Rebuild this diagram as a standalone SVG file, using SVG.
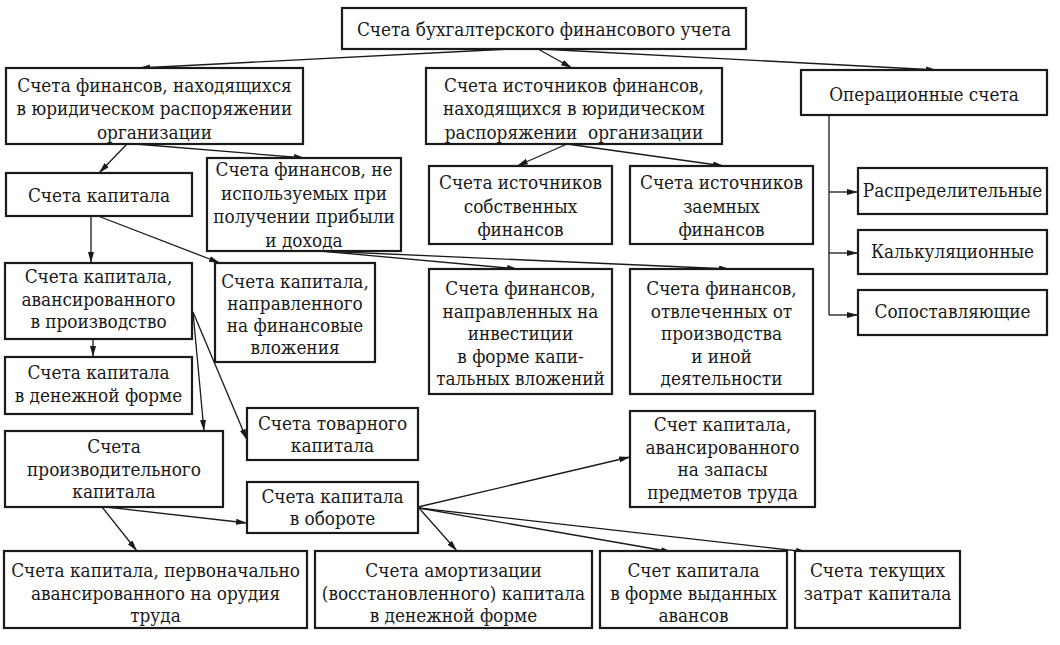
<svg xmlns="http://www.w3.org/2000/svg" width="1060" height="645" viewBox="0 0 1060 645">
<style>
.box{fill:#fff;stroke:#1a1a1a;stroke-width:2.2}
.t text{font-family:"DejaVu Serif Condensed","DejaVu Serif",serif;font-stretch:condensed;font-size:18.8px;fill:#1a1a1a;text-anchor:middle}
.c{stroke:#1a1a1a;stroke-width:1.3;fill:none}
.a{marker-end:url(#arr)}
</style>
<defs>
<marker id="arr" markerUnits="userSpaceOnUse" markerWidth="12" markerHeight="7" refX="11" refY="3" orient="auto">
<path d="M0,0 L11,3 L0,6 z" fill="#1a1a1a"/>
</marker>
</defs>
<rect width="1060" height="645" fill="#fff"/>
<g id="connectors">
<line class="c a" x1="510" y1="49" x2="139" y2="68"/>
<line class="c a" x1="538" y1="49" x2="572" y2="68"/>
<line class="c a" x1="540" y1="49" x2="937" y2="70"/>
<line class="c a" x1="127" y1="144" x2="99" y2="173"/>
<line class="c a" x1="135" y1="144" x2="305" y2="158"/>
<line class="c a" x1="567" y1="144" x2="517" y2="166"/>
<line class="c a" x1="567" y1="144" x2="724" y2="166"/>
<line class="c" x1="829" y1="115" x2="829" y2="315"/>
<line class="c a" x1="829" y1="192" x2="858" y2="192"/>
<line class="c a" x1="829" y1="253" x2="858" y2="253"/>
<line class="c a" x1="829" y1="315" x2="858" y2="315"/>
<line class="c a" x1="91" y1="216" x2="91" y2="263"/>
<line class="c a" x1="98" y1="216" x2="220" y2="263"/>
<line class="c a" x1="320" y1="251" x2="518" y2="269"/>
<line class="c a" x1="320" y1="251" x2="730" y2="269"/>
<line class="c a" x1="93" y1="339" x2="93" y2="357"/>
<line class="c a" x1="193" y1="312" x2="204" y2="431"/>
<line class="c a" x1="193" y1="312" x2="247" y2="440"/>
<line class="c a" x1="102" y1="507" x2="137" y2="551"/>
<line class="c a" x1="106" y1="507" x2="247" y2="523"/>
<line class="c a" x1="418" y1="507" x2="630" y2="457"/>
<line class="c a" x1="419" y1="508" x2="457" y2="551"/>
<line class="c a" x1="419" y1="508" x2="672" y2="552"/>
<line class="c a" x1="419" y1="508" x2="807" y2="552"/>
</g>
<g class="t">
<g id="root"><rect class="box" x="342" y="8" width="404" height="41"/><text x="544" y="36">Счета бухгалтерского финансового учета</text></g>
<g id="fin-legal"><rect class="box" x="6" y="68" width="297" height="76"/><text x="154.5" y="91.5">Счета финансов, находящихся</text><text x="154.5" y="115">в юридическом распоряжении</text><text x="154.5" y="138.5">организации</text></g>
<g id="src-legal"><rect class="box" x="426" y="68" width="296" height="76"/><text x="574" y="91.5">Счета источников финансов,</text><text x="574" y="115">находящихся в юридическом</text><text x="574" y="138.5" xml:space="preserve">распоряжении  организации</text></g>
<g id="oper"><rect class="box" x="801" y="70" width="246" height="45"/><text x="924" y="101">Операционные счета</text></g>
<g id="capital"><rect class="box" x="6" y="173" width="186" height="43"/><text x="99" y="202">Счета капитала</text></g>
<g id="fin-unused"><rect class="box" x="207" y="158" width="194" height="93"/><text x="304" y="176">Счета финансов, не</text><text x="304" y="199.5">используемых при</text><text x="304" y="223">получении прибыли</text><text x="304" y="246.5">и дохода</text></g>
<g id="src-own"><rect class="box" x="429" y="166" width="183" height="78"/><text x="520.5" y="189">Счета источников</text><text x="520.5" y="212.5">собственных</text><text x="520.5" y="236">финансов</text></g>
<g id="src-borrowed"><rect class="box" x="630" y="166" width="183" height="78"/><text x="721.5" y="189">Счета источников</text><text x="721.5" y="212.5">заемных</text><text x="721.5" y="236">финансов</text></g>
<g id="distrib"><rect class="box" x="858" y="168" width="189" height="46"/><text x="952.5" y="197">Распределительные</text></g>
<g id="calc"><rect class="box" x="858" y="230" width="189" height="44"/><text x="952.5" y="258">Калькуляционные</text></g>
<g id="compare"><rect class="box" x="858" y="290" width="189" height="45"/><text x="952.5" y="318">Сопоставляющие</text></g>
<g id="cap-prod"><rect class="box" x="5" y="263" width="187" height="76"/><text x="98.5" y="283">Счета капитала,</text><text x="98.5" y="305.5">авансированного</text><text x="98.5" y="328">в производство</text></g>
<g id="cap-fin"><rect class="box" x="215" y="263" width="160" height="99"/><text x="295" y="288">Счета капитала,</text><text x="295" y="310">направленного</text><text x="295" y="332">на финансовые</text><text x="295" y="354">вложения</text></g>
<g id="fin-invest"><rect class="box" x="429" y="269" width="183" height="125"/><text x="520.5" y="295">Счета финансов,</text><text x="520.5" y="317.5">направленных на</text><text x="520.5" y="340">инвестиции</text><text x="520.5" y="362.5">в форме капи-</text><text x="520.5" y="385">тальных вложений</text></g>
<g id="fin-diverted"><rect class="box" x="630" y="269" width="183" height="125"/><text x="721.5" y="295">Счета финансов,</text><text x="721.5" y="317.5">отвлеченных от</text><text x="721.5" y="340">производства</text><text x="721.5" y="362.5">и иной</text><text x="721.5" y="385">деятельности</text></g>
<g id="cap-money"><rect class="box" x="5" y="357" width="187" height="57"/><text x="98.5" y="379">Счета капитала</text><text x="98.5" y="402">в денежной форме</text></g>
<g id="cap-goods"><rect class="box" x="247" y="408" width="171" height="52"/><text x="332.5" y="430">Счета товарного</text><text x="332.5" y="452">капитала</text></g>
<g id="cap-stocks"><rect class="box" x="630" y="411" width="185" height="96"/><text x="722.5" y="431">Счет капитала,</text><text x="722.5" y="453.5">авансированного</text><text x="722.5" y="476">на запасы</text><text x="722.5" y="498.5">предметов труда</text></g>
<g id="cap-productive"><rect class="box" x="5" y="431" width="218" height="76"/><text x="114" y="453">Счета</text><text x="114" y="475.5">производительного</text><text x="114" y="498">капитала</text></g>
<g id="cap-turnover"><rect class="box" x="247" y="482" width="171" height="51"/><text x="332.5" y="503">Счета капитала</text><text x="332.5" y="525">в обороте</text></g>
<g id="cap-tools"><rect class="box" x="4" y="551" width="303" height="77"/><text x="155.5" y="577">Счета капитала, первоначально</text><text x="155.5" y="599.5">авансированного на орудия</text><text x="155.5" y="622">труда</text></g>
<g id="amort"><rect class="box" x="315" y="551" width="277" height="77"/><text x="453.5" y="577">Счета амортизации</text><text x="453.5" y="599.5">(восстановленного) капитала</text><text x="453.5" y="622">в денежной форме</text></g>
<g id="advances"><rect class="box" x="600" y="551" width="187" height="77"/><text x="693.5" y="577">Счет капитала</text><text x="693.5" y="599.5">в форме выданных</text><text x="693.5" y="622">авансов</text></g>
<g id="current"><rect class="box" x="795" y="551" width="165" height="77"/><text x="877.5" y="577">Счета текущих</text><text x="877.5" y="599.5">затрат капитала</text></g>
</g>
</svg>
